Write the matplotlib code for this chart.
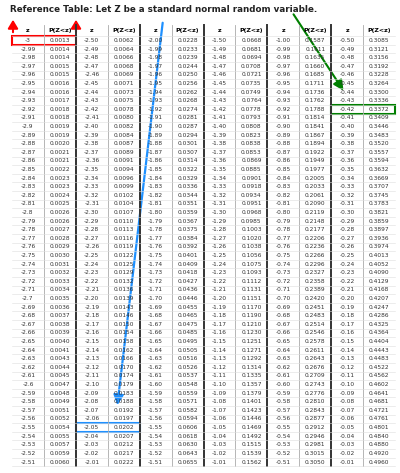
import math
import matplotlib
matplotlib.use("Agg")
import matplotlib.pyplot as plt
from matplotlib.patches import Rectangle, FancyArrowPatch

# z values per column group (6 groups x 50 rows), P(Z<z) from the table
groups = [[round(-3.00 + 0.5 * g + 0.01 * i, 2) for i in range(50)] for g in range(6)]
probs = [[0.5 * (1 + math.erf(z / math.sqrt(2))) for z in col] for col in groups]

title = "Reference Table: Let Z be a standard normal random variable."

W, H = 400, 473
fig = plt.figure(figsize=(W / 100, H / 100), dpi=100)
ax = fig.add_axes([0, 0, 1, 1])
ax.set_xlim(0, W)
ax.set_ylim(H, 0)
ax.axis("off")

ax.text(10, 10, title, fontsize=6.3, fontweight="bold", va="center", color="#222")

left, right = 12, 395
gw = (right - left) / 6
top = 25
y0, dy = 40.5, (462 - 40.5) / 49
bottom = y0 + 49 * dy + dy / 2

for g in range(6):
    xg = left + g * gw
    ax.text(xg + gw * 0.25, 30.5, "z", fontsize=4.5, fontweight="bold", ha="center", va="center")
    ax.text(xg + gw * 0.75, 30.5, "P(Z<z)", fontsize=4.5, fontweight="bold", ha="center", va="center")
    for i, (z, p) in enumerate(zip(groups[g], probs[g])):
        y = y0 + i * dy
        zs = f"{z:g}" if g == 0 else f"{z:.2f}"
        ax.text(xg + gw * 0.25, y, zs, fontsize=4.2, ha="center", va="center", color="#333")
        ax.text(xg + gw * 0.75, y, f"{p:.4f}", fontsize=4.2, ha="center", va="center", color="#333")
    ax.plot([xg + gw / 2] * 2, [top, bottom], color="#aaa", lw=0.6)
    if g > 0:
        ax.plot([xg] * 2, [top, bottom], color="#333", lw=1.4)
for i in range(51):
    y = y0 - dy / 2 + i * dy
    ax.plot([left, right], [y, y], color="#ddd", lw=0.4)

# annotations
ax.add_patch(Rectangle((left, y0 - 4.3), gw, 8.6, fill=False, ec="red", lw=1.5))
for x in (13, 76):
    ax.add_patch(FancyArrowPatch((x, 35), (x, 17), arrowstyle="-|>,head_width=3,head_length=5",
                                 color="red", lw=1.5))
ax.add_patch(FancyArrowPatch((163, 20), (117, 408), arrowstyle="-|>,head_width=3,head_length=6",
                             color="#1e90ff", lw=1.6))
yb = y0 + 45 * dy
ax.add_patch(Rectangle((left + gw, yb - 4.3), gw, 8.6, fill=False, ec="#1e90ff", lw=1.5))
ax.add_patch(FancyArrowPatch((292, 12), (345, 93), arrowstyle="-|>,head_width=3,head_length=6",
                             color="green", lw=1.5))
yg = y0 + 8 * dy
ax.add_patch(Rectangle((left + 5 * gw, yg - 4.3), gw, 8.6, fill=False, ec="green", lw=1.5))

fig.savefig("out.png", dpi=100)
